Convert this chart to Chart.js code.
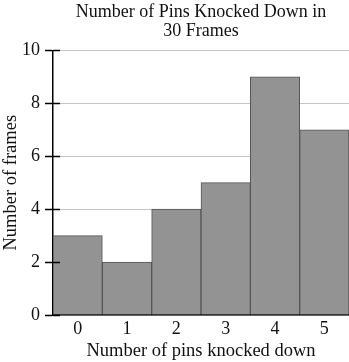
<!DOCTYPE html>
<html>
<head>
<meta charset="utf-8">
<script src="https://cdn.jsdelivr.net/npm/chart.js@4"></script>
<style>
    html, body { margin: 0; padding: 0; background: #fff; }
    #wrap { width: 349px; height: 362px; }
</style>
</head>
<body>
<div id="wrap"><canvas id="chart"></canvas></div>
<script>
const pins = ['0', '1', '2', '3', '4', '5'];
const frames = [3, 2, 4, 5, 9, 7];
const yTicks = [0, 2, 4, 6, 8, 10];

const serif = 'Liberation Serif';

// short tick marks that cross the y axis line
const crossTicks = {
    id: 'crossTicks',
    afterDraw: chart => {
        const y = chart.scales.y;
        const ctx = chart.ctx;
        ctx.save();
        ctx.strokeStyle = '#000';
        ctx.lineWidth = 1.5;
        yTicks.forEach(v => {
            const py = Math.round(y.getPixelForValue(v)) + 0.5;
            ctx.beginPath();
            ctx.moveTo(y.right, py);
            ctx.lineTo(y.right + 7, py);
            ctx.stroke();
        });
        ctx.restore();
    }
};

new Chart(document.getElementById('chart').getContext('2d'), {
    type: 'bar',
    data: {
        labels: pins,
        datasets: [{
            data: frames,
            backgroundColor: '#939393',
            borderColor: '#555555',
            borderWidth: 1,
            barPercentage: 1,
            categoryPercentage: 1
        }]
    },
    options: {
        responsive: true,
        maintainAspectRatio: false,
        animation: false,
        layout: { padding: { left: 0, right: 0, top: 2.5, bottom: 0 } },
        scales: {
            x: {
                afterFit: scale => { scale.height = 47; },
                grid: { display: false, drawTicks: false },
                border: { display: true, color: '#000', width: 1.5 },
                ticks: { color: '#111', font: { family: serif, size: 18 }, padding: 3 },
                title: {
                    display: true,
                    text: 'Number of pins knocked down',
                    color: '#111',
                    font: { family: serif, size: 18.5 },
                    padding: { top: 0, bottom: 0 }
                }
            },
            y: {
                afterFit: scale => { scale.width = 53; },
                min: 0,
                max: 10,
                ticks: { stepSize: 2, color: '#111', font: { family: serif, size: 18 }, padding: 5 },
                grid: {
                    color: '#c4c4c4',
                    lineWidth: 1,
                    drawTicks: true,
                    tickLength: 8,
                    tickColor: '#000',
                    tickWidth: 1.5
                },
                border: { display: true, color: '#000', width: 1.5 },
                title: {
                    display: true,
                    text: 'Number of frames',
                    color: '#111',
                    font: { family: serif, size: 18.5 },
                    padding: { top: 0, bottom: 1 }
                }
            }
        },
        plugins: {
            legend: { display: false },
            tooltip: { enabled: false },
            title: {
                display: true,
                fullSize: false,
                text: ['Number of Pins Knocked Down in', '30 Frames'],
                color: '#111',
                font: { family: serif, size: 18, weight: 'normal', lineHeight: 1.08 },
                padding: { top: 0, bottom: 9 }
            }
        }
    },
    plugins: [crossTicks]
});
</script>
</body>
</html>
